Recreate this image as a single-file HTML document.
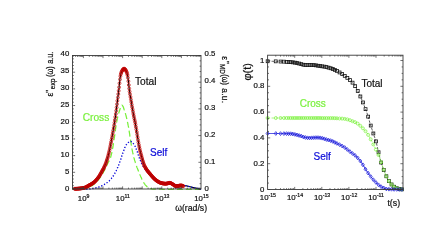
<!DOCTYPE html>
<html><head><meta charset="utf-8"><title>Dielectric loss and relaxation</title>
<style>html,body{margin:0;padding:0;background:#fff}svg{display:block}text{font-family:"Liberation Sans",sans-serif;stroke-width:0.2px;paint-order:stroke}</style>
</head><body>
<svg width="448" height="252" viewBox="0 0 448 252" fill="#111" stroke="none">
<rect width="448" height="252" fill="#fff"/>
<path d="M72.5 189.0 L73.1 189.0 L73.8 189.0 L74.4 189.0 L75.1 189.0 L75.7 188.9 L76.3 188.9 L77.0 188.9 L77.6 188.9 L78.2 188.8 L78.8 188.8 L79.5 188.7 L80.1 188.7 L80.7 188.6 L81.3 188.6 L81.9 188.5 L82.5 188.5 L83.1 188.4 L83.7 188.3 L84.3 188.3 L84.9 188.2 L85.5 188.1 L86.1 188.0 L86.7 187.9 L87.3 187.7 L87.9 187.5 L88.5 187.3 L89.1 187.0 L89.7 186.8 L90.3 186.5 L90.9 186.2 L91.4 185.9 L92.0 185.6 L92.5 185.3 L93.0 185.0 L93.5 184.7 L94.0 184.3 L94.5 183.9 L94.9 183.5 L95.4 183.1 L95.8 182.7 L96.3 182.2 L96.7 181.7 L97.2 181.2 L97.6 180.8 L98.0 180.3 L98.4 179.8 L98.8 179.3 L99.1 178.8 L99.5 178.3 L99.9 177.8 L100.2 177.3 L100.6 176.8 L100.9 176.3 L101.3 175.8 L101.6 175.2 L101.9 174.7 L102.3 174.2 L102.6 173.6 L102.9 173.1 L103.2 172.5 L103.5 172.0 L103.8 171.5 L104.1 170.9 L104.4 170.4 L104.7 169.8 L105.0 169.2 L105.2 168.7 L105.5 168.1 L105.8 167.6 L106.1 167.0 L106.3 166.4 L106.6 165.9 L106.9 165.3 L107.1 164.8 L107.4 164.2 L107.7 163.6 L107.9 163.1 L108.2 162.5 L108.5 161.9 L108.8 161.4 L109.1 160.8 L109.3 160.3 L109.6 159.7 L109.9 159.1 L110.1 158.5 L110.3 158.0 L110.6 157.4 L110.8 156.8 L110.9 156.2 L111.1 155.6 L111.3 155.1 L111.4 154.5 L111.5 153.9 L111.7 153.3 L111.8 152.7 L112.0 152.0 L112.1 151.4 L112.2 150.8 L112.3 150.2 L112.4 149.6 L112.5 149.0 L112.6 148.4 L112.8 147.8 L112.9 147.1 L113.0 146.5 L113.1 145.9 L113.2 145.3 L113.3 144.7 L113.4 144.0 L113.4 143.4 L113.5 142.8 L113.6 142.2 L113.7 141.6 L113.8 141.0 L113.9 140.3 L114.0 139.7 L114.1 139.1 L114.2 138.5 L114.3 137.9 L114.4 137.3 L114.5 136.6 L114.6 136.0 L114.7 135.4 L114.8 134.8 L114.9 134.2 L115.0 133.6 L115.0 132.9 L115.1 132.3 L115.2 131.7 L115.3 131.1 L115.4 130.5 L115.5 129.9 L115.5 129.2 L115.6 128.6 L115.7 128.0 L115.8 127.4 L115.9 126.8 L116.0 126.2 L116.1 125.5 L116.2 124.9 L116.3 124.3 L116.4 123.7 L116.5 123.1 L116.6 122.5 L116.7 121.9 L116.8 121.3 L117.0 120.7 L117.1 120.0 L117.2 119.4 L117.3 118.8 L117.5 118.2 L117.6 117.6 L117.7 117.0 L117.9 116.4 L118.0 115.8 L118.2 115.2 L118.3 114.6 L118.5 114.0 L118.7 113.4 L118.8 112.8 L119.0 112.2 L119.2 111.6 L119.4 111.0 L119.6 110.4 L119.8 109.8 L120.0 109.1 L120.2 108.4 L120.5 107.7 L120.8 107.0 L121.1 106.3 L121.4 105.8 L121.7 105.4 L121.9 105.2 L122.2 105.3 L122.5 105.6 L122.8 106.0 L123.1 106.6 L123.4 107.3 L123.6 108.1 L123.9 108.8 L124.1 109.5 L124.3 110.1 L124.5 110.7 L124.7 111.3 L124.9 111.9 L125.1 112.5 L125.3 113.1 L125.5 113.7 L125.7 114.3 L125.8 114.9 L126.0 115.5 L126.1 116.1 L126.3 116.7 L126.4 117.3 L126.6 117.9 L126.7 118.5 L126.9 119.1 L127.0 119.7 L127.2 120.3 L127.3 120.9 L127.4 121.5 L127.5 122.1 L127.7 122.8 L127.8 123.4 L127.9 124.0 L128.0 124.6 L128.1 125.2 L128.3 125.8 L128.4 126.4 L128.5 127.0 L128.6 127.6 L128.7 128.3 L128.8 128.9 L128.9 129.5 L129.0 130.1 L129.1 130.7 L129.2 131.3 L129.3 131.9 L129.4 132.6 L129.5 133.2 L129.6 133.8 L129.7 134.4 L129.8 135.0 L129.8 135.6 L129.9 136.2 L130.0 136.9 L130.1 137.5 L130.2 138.1 L130.3 138.7 L130.4 139.3 L130.5 139.9 L130.6 140.6 L130.7 141.2 L130.8 141.8 L130.9 142.4 L131.0 143.0 L131.1 143.6 L131.2 144.3 L131.3 144.9 L131.4 145.5 L131.5 146.1 L131.6 146.7 L131.7 147.3 L131.8 147.9 L131.9 148.5 L132.0 149.2 L132.2 149.8 L132.3 150.4 L132.4 151.0 L132.5 151.6 L132.6 152.2 L132.8 152.8 L132.9 153.4 L133.0 154.0 L133.2 154.6 L133.3 155.2 L133.5 155.9 L133.6 156.5 L133.8 157.1 L133.9 157.7 L134.1 158.3 L134.3 158.9 L134.4 159.5 L134.6 160.1 L134.8 160.7 L135.0 161.2 L135.2 161.8 L135.3 162.4 L135.5 163.0 L135.7 163.6 L135.9 164.2 L136.1 164.8 L136.3 165.4 L136.5 166.0 L136.7 166.6 L136.9 167.2 L137.1 167.7 L137.4 168.3 L137.6 168.9 L137.8 169.5 L138.0 170.1 L138.3 170.6 L138.5 171.2 L138.7 171.8 L139.0 172.4 L139.2 173.0 L139.4 173.5 L139.7 174.1 L139.9 174.7 L140.2 175.2 L140.4 175.8 L140.7 176.4 L140.9 177.0 L141.2 177.5 L141.5 178.1 L141.7 178.7 L142.0 179.3 L142.3 179.8 L142.5 180.4 L142.8 180.9 L143.1 181.5 L143.4 182.0 L143.7 182.6 L144.1 183.1 L144.4 183.6 L144.8 184.1 L145.1 184.6 L145.5 185.1 L146.0 185.6 L146.4 186.0 L146.9 186.5 L147.3 186.9 L147.8 187.2 L148.3 187.5 L148.9 187.8 L149.4 188.1 L150.0 188.3 L150.6 188.6 L151.3 188.8 L151.9 188.9 L152.5 189.0 L153.1 189.0 L153.7 189.0 L154.3 189.1 L154.9 189.1 L155.5 189.1 L156.1 189.1 L156.7 189.1 L157.3 189.2 L158.0 189.2 L158.6 189.2 L159.2 189.2 L159.8 189.2 L160.5 189.2 L161.1 189.2 L161.7 189.2 L162.4 189.3 L163.0 189.3 L163.6 189.3 L164.2 189.3 L164.9 189.3 L165.5 189.3 L166.1 189.3 L166.8 189.3 L167.4 189.3 L168.0 189.3 L168.6 189.3 L169.3 189.3 L169.9 189.3 L170.5 189.3 L171.1 189.3 L171.8 189.3 L172.4 189.3 L173.0 189.3 L173.6 189.3 L174.2 189.3 L174.9 189.3 L175.5 189.3 L176.1 189.3 L176.7 189.3 L177.4 189.3 L178.0 189.3 L178.6 189.3 L179.2 189.3 L179.8 189.3 L180.5 189.3 L181.1 189.3 L181.7 189.3 L182.3 189.3 L183.0 189.3 L183.6 189.3 L184.2 189.3 L184.8 189.3 L185.4 189.3 L186.1 189.3 L186.7 189.3 L187.3 189.3 L187.9 189.3 L188.6 189.3 L189.2 189.3 L189.8 189.3 L190.4 189.3 L191.0 189.3 L191.7 189.3 L192.3 189.3 L192.9 189.3 L193.5 189.3 L194.2 189.3 L194.8 189.3 L195.4 189.3 L196.0 189.3 L196.6 189.3 L197.3 189.3 L197.9 189.3 L198.5 189.3 L199.1 189.3 L199.8 189.3 L200.4 189.3 L201.0 189.3" fill="none" stroke="#78f03a" stroke-width="1.25" stroke-dasharray="6 3"/>
<path d="M72.5 188.9 L73.3 188.9 L74.0 188.8 L74.8 188.8 L75.6 188.8 L76.4 188.7 L77.1 188.7 L77.9 188.6 L78.7 188.5 L79.5 188.5 L80.2 188.4 L81.0 188.3 L81.8 188.2 L82.5 188.1 L83.3 188.0 L84.0 187.9 L84.7 187.7 L85.4 187.4 L86.1 187.1 L86.8 186.7 L87.5 186.3 L88.1 185.9 L88.8 185.5 L89.5 185.1 L90.2 184.8 L90.9 184.4 L91.5 184.0 L92.2 183.6 L92.9 183.2 L93.5 182.8 L94.1 182.3 L94.6 181.8 L95.2 181.3 L95.7 180.7 L96.2 180.1 L96.7 179.5 L97.2 178.9 L97.7 178.3 L98.2 177.7 L98.6 177.1 L99.1 176.4 L99.5 175.8 L99.9 175.1 L100.3 174.5 L100.6 173.8 L101.0 173.1 L101.4 172.4 L101.7 171.8 L102.1 171.1 L102.5 170.4 L102.8 169.7 L103.2 169.1 L103.6 168.4 L103.9 167.7 L104.3 167.0 L104.6 166.3 L104.9 165.6 L105.2 164.9 L105.5 164.2 L105.8 163.5 L106.0 162.8 L106.3 162.0 L106.5 161.3 L106.8 160.6 L107.0 159.8 L107.2 159.1 L107.5 158.3 L107.7 157.6 L107.9 156.9 L108.1 156.1 L108.3 155.4 L108.5 154.6 L108.6 153.9 L108.8 153.1 L109.0 152.4 L109.2 151.6 L109.3 150.9 L109.5 150.1 L109.7 149.4 L109.8 148.6 L110.0 147.9 L110.1 147.1 L110.3 146.4 L110.4 145.6 L110.6 144.9 L110.7 144.1 L110.9 143.3 L111.0 142.6 L111.2 141.8 L111.3 141.1 L111.4 140.3 L111.6 139.6 L111.7 138.8 L111.9 138.1 L112.0 137.3 L112.1 136.5 L112.3 135.8 L112.4 135.0 L112.6 134.3 L112.7 133.5 L112.8 132.8 L113.0 132.0 L113.1 131.2 L113.2 130.5 L113.4 129.7 L113.5 129.0 L113.6 128.2 L113.7 127.4 L113.9 126.7 L114.0 125.9 L114.1 125.2 L114.2 124.4 L114.3 123.6 L114.5 122.9 L114.6 122.1 L114.7 121.4 L114.8 120.6 L114.9 119.8 L115.0 119.1 L115.1 118.3 L115.3 117.6 L115.4 116.8 L115.5 116.0 L115.6 115.3 L115.7 114.5 L115.8 113.7 L115.9 113.0 L116.0 112.2 L116.1 111.5 L116.2 110.7 L116.3 109.9 L116.4 109.2 L116.5 108.4 L116.6 107.6 L116.7 106.9 L116.8 106.1 L116.9 105.4 L117.0 104.6 L117.1 103.8 L117.2 103.1 L117.3 102.3 L117.4 101.5 L117.5 100.8 L117.5 100.0 L117.6 99.2 L117.7 98.5 L117.8 97.7 L117.9 97.0 L118.0 96.2 L118.1 95.4 L118.2 94.7 L118.3 93.9 L118.4 93.1 L118.5 92.4 L118.6 91.6 L118.7 90.8 L118.8 90.1 L118.9 89.3 L119.0 88.6 L119.1 87.8 L119.1 87.0 L119.2 86.2 L119.3 85.5 L119.4 84.7 L119.4 83.9 L119.5 83.1 L119.6 82.4 L119.7 81.6 L119.7 80.8 L119.8 80.1 L119.9 79.3 L120.0 78.5 L120.1 77.8 L120.2 77.0 L120.4 76.3 L120.5 75.5 L120.7 74.8 L120.8 74.1 L121.0 73.3 L121.3 72.6 L121.6 71.8 L121.9 71.1 L122.3 70.5 L122.7 69.8 L123.3 69.2 L123.9 68.7 L124.5 68.8 L125.1 69.4 L125.6 70.1 L126.0 70.7 L126.4 71.4 L126.7 72.1 L126.9 72.8 L127.2 73.6 L127.3 74.4 L127.5 75.1 L127.6 75.8 L127.8 76.6 L127.9 77.3 L128.0 78.1 L128.1 78.8 L128.2 79.6 L128.3 80.4 L128.4 81.1 L128.5 81.9 L128.6 82.7 L128.6 83.4 L128.7 84.2 L128.8 85.0 L128.9 85.8 L129.0 86.5 L129.1 87.3 L129.1 88.1 L129.2 88.8 L129.3 89.6 L129.5 90.4 L129.6 91.1 L129.7 91.9 L129.8 92.6 L129.9 93.4 L130.0 94.2 L130.1 94.9 L130.3 95.7 L130.4 96.5 L130.5 97.2 L130.6 98.0 L130.8 98.7 L130.9 99.5 L131.0 100.2 L131.1 101.0 L131.3 101.8 L131.4 102.5 L131.5 103.3 L131.6 104.0 L131.8 104.8 L131.9 105.6 L132.0 106.3 L132.2 107.1 L132.3 107.8 L132.4 108.6 L132.6 109.3 L132.7 110.1 L132.9 110.9 L133.0 111.6 L133.1 112.4 L133.3 113.1 L133.4 113.9 L133.5 114.6 L133.7 115.4 L133.8 116.2 L134.0 116.9 L134.1 117.7 L134.3 118.4 L134.4 119.2 L134.6 119.9 L134.7 120.7 L134.9 121.4 L135.0 122.2 L135.2 122.9 L135.3 123.7 L135.5 124.5 L135.6 125.2 L135.8 126.0 L135.9 126.7 L136.0 127.5 L136.2 128.2 L136.3 129.0 L136.4 129.8 L136.5 130.5 L136.6 131.3 L136.8 132.0 L136.9 132.8 L137.0 133.6 L137.1 134.3 L137.3 135.1 L137.4 135.8 L137.5 136.6 L137.6 137.4 L137.7 138.1 L137.9 138.9 L138.0 139.6 L138.1 140.4 L138.2 141.2 L138.4 141.9 L138.5 142.7 L138.6 143.4 L138.8 144.2 L138.9 144.9 L139.0 145.7 L139.2 146.5 L139.3 147.2 L139.5 148.0 L139.6 148.7 L139.8 149.5 L140.0 150.2 L140.1 151.0 L140.3 151.7 L140.5 152.5 L140.7 153.2 L140.9 154.0 L141.1 154.7 L141.3 155.5 L141.5 156.2 L141.7 156.9 L141.9 157.7 L142.1 158.4 L142.3 159.2 L142.5 160.0 L142.7 160.7 L142.9 161.4 L143.1 162.2 L143.4 162.9 L143.6 163.6 L143.9 164.4 L144.1 165.1 L144.4 165.8 L144.7 166.4 L145.1 167.1 L145.5 167.8 L145.9 168.4 L146.3 169.1 L146.7 169.7 L147.2 170.3 L147.7 170.9 L148.1 171.6 L148.6 172.2 L149.1 172.8 L149.6 173.4 L150.1 174.0 L150.6 174.6 L151.1 175.2 L151.6 175.8 L152.1 176.4 L152.6 177.0 L153.1 177.6 L153.6 178.2 L154.2 178.8 L154.7 179.3 L155.3 179.8 L155.9 180.2 L156.5 180.5 L157.2 180.8 L157.9 181.1 L158.6 181.4 L159.3 181.7 L160.1 182.0 L160.8 182.2 L161.6 182.5 L162.3 182.7 L163.1 182.9 L163.9 183.1 L164.6 183.2 L165.4 183.4 L166.1 183.5 L166.9 183.6 L167.6 183.7 L168.4 183.9 L169.2 184.0 L169.9 184.1 L170.7 184.1 L171.5 184.2 L172.2 184.3 L173.0 184.4 L173.8 184.5 L174.5 184.6 L175.3 184.6 L176.1 184.7 L176.8 184.8 L177.6 184.8 L178.4 184.9 L179.1 184.9 L179.9 185.0 L180.7 185.0 L181.4 185.1 L182.2 185.2 L183.0 185.3 L183.7 185.4 L184.5 185.5 L185.2 185.6 L186.0 185.8 L186.7 185.9 L187.5 186.1 L188.2 186.3 L189.0 186.5 L189.7 186.7 L190.5 186.8 L191.2 187.0 L192.0 187.2 L192.7 187.4 L193.5 187.5 L194.2 187.7 L195.0 187.9 L195.7 188.0 L196.5 188.2 L197.2 188.4 L198.0 188.5 L198.7 188.7 L199.5 188.9 L200.2 189.0 L201.0 189.2" fill="none" stroke="#000" stroke-width="1.1"/>
<path d="M80.0 189.3 L80.4 189.3 L80.9 189.3 L81.3 189.3 L81.7 189.3 L82.1 189.3 L82.6 189.3 L83.0 189.3 L83.4 189.3 L83.8 189.3 L84.3 189.3 L84.7 189.3 L85.1 189.3 L85.6 189.2 L86.0 189.2 L86.4 189.2 L86.8 189.2 L87.3 189.2 L87.7 189.2 L88.1 189.2 L88.5 189.2 L89.0 189.1 L89.4 189.1 L89.8 189.1 L90.2 189.0 L90.7 188.9 L91.1 188.9 L91.5 188.8 L91.9 188.7 L92.3 188.7 L92.8 188.6 L93.2 188.5 L93.6 188.4 L94.0 188.4 L94.4 188.3 L94.8 188.2 L95.3 188.1 L95.7 188.0 L96.1 187.9 L96.5 187.7 L96.9 187.6 L97.3 187.5 L97.7 187.3 L98.1 187.2 L98.5 187.1 L98.9 186.9 L99.3 186.8 L99.7 186.6 L100.1 186.5 L100.5 186.3 L100.9 186.1 L101.3 186.0 L101.7 185.8 L102.1 185.6 L102.5 185.4 L102.9 185.2 L103.2 185.0 L103.6 184.8 L104.0 184.6 L104.4 184.4 L104.7 184.2 L105.1 184.0 L105.5 183.8 L105.8 183.5 L106.2 183.3 L106.5 183.0 L106.9 182.8 L107.2 182.5 L107.5 182.3 L107.9 182.0 L108.2 181.7 L108.5 181.4 L108.8 181.1 L109.2 180.9 L109.5 180.6 L109.8 180.3 L110.1 180.0 L110.4 179.6 L110.6 179.3 L110.9 179.0 L111.2 178.7 L111.5 178.4 L111.7 178.0 L112.0 177.7 L112.2 177.3 L112.5 177.0 L112.7 176.6 L113.0 176.3 L113.2 175.9 L113.5 175.6 L113.7 175.2 L113.9 174.8 L114.1 174.5 L114.3 174.1 L114.6 173.8 L114.8 173.4 L115.0 173.0 L115.2 172.6 L115.4 172.3 L115.6 171.9 L115.8 171.5 L116.0 171.1 L116.2 170.7 L116.3 170.3 L116.5 170.0 L116.7 169.6 L116.9 169.2 L117.1 168.8 L117.2 168.4 L117.4 168.0 L117.6 167.6 L117.8 167.2 L117.9 166.8 L118.1 166.4 L118.2 166.1 L118.4 165.7 L118.6 165.3 L118.7 164.9 L118.9 164.5 L119.0 164.1 L119.2 163.7 L119.3 163.3 L119.5 162.9 L119.6 162.5 L119.8 162.1 L119.9 161.7 L120.0 161.3 L120.2 160.9 L120.3 160.5 L120.5 160.1 L120.6 159.7 L120.8 159.2 L120.9 158.8 L121.0 158.4 L121.2 158.0 L121.3 157.6 L121.4 157.2 L121.6 156.8 L121.7 156.4 L121.8 156.0 L122.0 155.6 L122.1 155.2 L122.2 154.8 L122.4 154.4 L122.5 154.0 L122.6 153.6 L122.8 153.2 L122.9 152.8 L123.1 152.4 L123.2 152.0 L123.4 151.6 L123.5 151.2 L123.7 150.7 L123.8 150.3 L124.0 149.9 L124.1 149.5 L124.3 149.1 L124.4 148.7 L124.6 148.3 L124.7 147.8 L124.9 147.4 L125.1 147.0 L125.2 146.7 L125.4 146.3 L125.6 145.9 L125.8 145.5 L126.0 145.2 L126.2 144.9 L126.5 144.5 L126.7 144.2 L127.0 143.9 L127.3 143.5 L127.6 143.2 L128.0 142.8 L128.3 142.5 L128.7 142.2 L129.1 141.9 L129.4 141.7 L129.8 141.5 L130.2 141.4 L130.5 141.4 L130.8 141.4 L131.2 141.6 L131.5 141.8 L131.9 142.0 L132.2 142.3 L132.6 142.7 L132.9 143.1 L133.2 143.4 L133.5 143.8 L133.8 144.2 L134.0 144.5 L134.2 144.8 L134.5 145.2 L134.7 145.5 L134.9 145.9 L135.1 146.3 L135.3 146.7 L135.4 147.1 L135.6 147.5 L135.8 147.9 L135.9 148.3 L136.1 148.7 L136.3 149.1 L136.4 149.5 L136.6 149.9 L136.7 150.3 L136.9 150.7 L137.0 151.1 L137.2 151.5 L137.3 151.9 L137.5 152.3 L137.6 152.7 L137.7 153.1 L137.9 153.5 L138.0 153.9 L138.1 154.3 L138.2 154.8 L138.4 155.2 L138.5 155.6 L138.6 156.0 L138.8 156.4 L138.9 156.8 L139.1 157.2 L139.2 157.6 L139.4 158.0 L139.5 158.4 L139.7 158.8 L139.8 159.2 L140.0 159.6 L140.2 160.0 L140.3 160.4 L140.5 160.7 L140.7 161.1 L140.8 161.5 L141.0 161.9 L141.2 162.3 L141.4 162.7 L141.5 163.1 L141.7 163.5 L141.9 163.8 L142.1 164.2 L142.3 164.6 L142.5 165.0 L142.7 165.3 L142.9 165.7 L143.1 166.1 L143.3 166.5 L143.6 166.8 L143.8 167.2 L144.0 167.6 L144.2 167.9 L144.5 168.3 L144.7 168.7 L144.9 169.0 L145.2 169.4 L145.4 169.7 L145.7 170.1 L145.9 170.4 L146.2 170.7 L146.4 171.1 L146.7 171.4 L147.0 171.7 L147.2 172.1 L147.5 172.4 L147.8 172.7 L148.1 173.0 L148.4 173.3 L148.7 173.7 L149.0 174.0 L149.3 174.3 L149.6 174.6 L149.9 174.9 L150.2 175.2 L150.5 175.5 L150.8 175.8 L151.1 176.1 L151.4 176.4 L151.7 176.7 L152.0 177.0 L152.3 177.3 L152.6 177.6 L153.0 177.9 L153.3 178.2 L153.6 178.5 L153.9 178.8 L154.3 179.0 L154.6 179.3 L154.9 179.5 L155.3 179.8 L155.6 180.0 L156.0 180.2 L156.3 180.4 L156.7 180.6 L157.1 180.7 L157.5 180.9 L157.9 181.1 L158.3 181.3 L158.6 181.4 L159.0 181.6 L159.5 181.7 L159.9 181.9 L160.3 182.0 L160.7 182.2 L161.1 182.3 L161.5 182.4 L161.9 182.6 L162.4 182.7 L162.8 182.8 L163.2 182.9 L163.6 183.0 L164.0 183.1 L164.4 183.2 L164.9 183.3 L165.3 183.4 L165.7 183.4 L166.1 183.5 L166.5 183.6 L166.9 183.6 L167.4 183.7 L167.8 183.8 L168.2 183.8 L168.6 183.9 L169.0 183.9 L169.5 184.0 L169.9 184.0 L170.3 184.1 L170.7 184.1 L171.2 184.2 L171.6 184.2 L172.0 184.3 L172.5 184.3 L172.9 184.4 L173.3 184.4 L173.7 184.5 L174.2 184.5 L174.6 184.6 L175.0 184.6 L175.4 184.6 L175.9 184.7 L176.3 184.7 L176.7 184.8 L177.1 184.8 L177.6 184.8 L178.0 184.8 L178.4 184.9 L178.8 184.9 L179.3 184.9 L179.7 185.0 L180.1 185.0 L180.5 185.0 L181.0 185.1 L181.4 185.1 L181.8 185.1 L182.2 185.2 L182.7 185.2 L183.1 185.3 L183.5 185.3 L183.9 185.4 L184.3 185.4 L184.8 185.5 L185.2 185.6 L185.6 185.7 L186.0 185.8 L186.4 185.9 L186.8 186.0 L187.3 186.0 L187.7 186.1 L188.1 186.3 L188.5 186.4 L188.9 186.5 L189.3 186.6 L189.8 186.7 L190.2 186.8 L190.6 186.9 L191.0 187.0 L191.4 187.1 L191.8 187.2 L192.3 187.3 L192.7 187.3 L193.1 187.4 L193.5 187.5 L193.9 187.6 L194.3 187.7 L194.8 187.8 L195.2 187.9 L195.6 188.0 L196.0 188.1 L196.4 188.2 L196.8 188.3 L197.3 188.4 L197.7 188.5 L198.1 188.5 L198.5 188.6 L198.9 188.7 L199.3 188.8 L199.8 188.9 L200.2 189.0 L200.6 189.1 L201.0 189.2" fill="none" stroke="#0a0ad8" stroke-width="1.35" stroke-dasharray="1.3 1.8"/>
<g fill="none" stroke="#c00000" stroke-width="0.7"><circle cx="74.6" cy="188.8" r="1.45"/><circle cx="75.0" cy="188.8" r="1.45"/><circle cx="75.4" cy="188.8" r="1.45"/><circle cx="75.9" cy="188.8" r="1.45"/><circle cx="76.3" cy="188.8" r="1.45"/><circle cx="76.7" cy="188.8" r="1.45"/><circle cx="77.1" cy="188.7" r="1.45"/><circle cx="77.5" cy="188.7" r="1.45"/><circle cx="78.0" cy="188.7" r="1.45"/><circle cx="78.4" cy="188.6" r="1.45"/><circle cx="78.8" cy="188.6" r="1.45"/><circle cx="79.2" cy="188.6" r="1.45"/><circle cx="79.6" cy="188.5" r="1.45"/><circle cx="80.1" cy="188.5" r="1.45"/><circle cx="80.5" cy="188.4" r="1.45"/><circle cx="80.9" cy="188.4" r="1.45"/><circle cx="81.3" cy="188.3" r="1.45"/><circle cx="81.7" cy="188.2" r="1.45"/><circle cx="82.2" cy="188.2" r="1.45"/><circle cx="82.6" cy="188.1" r="1.45"/><circle cx="83.0" cy="188.0" r="1.45"/><circle cx="83.4" cy="188.0" r="1.45"/><circle cx="83.8" cy="187.9" r="1.45"/><circle cx="84.3" cy="187.8" r="1.45"/><circle cx="84.7" cy="187.7" r="1.45"/><circle cx="85.1" cy="187.6" r="1.45"/><circle cx="85.5" cy="187.4" r="1.45"/><circle cx="85.9" cy="187.2" r="1.45"/><circle cx="86.4" cy="187.0" r="1.45"/><circle cx="86.8" cy="186.7" r="1.45"/><circle cx="87.2" cy="186.5" r="1.45"/><circle cx="87.6" cy="186.2" r="1.45"/><circle cx="88.0" cy="186.0" r="1.45"/><circle cx="88.5" cy="185.7" r="1.45"/><circle cx="88.9" cy="185.5" r="1.45"/><circle cx="89.3" cy="185.2" r="1.45"/><circle cx="89.7" cy="185.0" r="1.45"/><circle cx="90.1" cy="184.8" r="1.45"/><circle cx="90.6" cy="184.6" r="1.45"/><circle cx="91.0" cy="184.3" r="1.45"/><circle cx="91.4" cy="184.1" r="1.45"/><circle cx="91.8" cy="183.8" r="1.45"/><circle cx="92.2" cy="183.6" r="1.45"/><circle cx="92.7" cy="183.3" r="1.45"/><circle cx="93.1" cy="183.0" r="1.45"/><circle cx="93.5" cy="182.7" r="1.45"/><circle cx="93.9" cy="182.4" r="1.45"/><circle cx="94.3" cy="182.1" r="1.45"/><circle cx="94.8" cy="181.7" r="1.45"/><circle cx="95.2" cy="181.3" r="1.45"/><circle cx="95.6" cy="180.8" r="1.45"/><circle cx="96.0" cy="180.4" r="1.45"/><circle cx="96.4" cy="179.9" r="1.45"/><circle cx="96.9" cy="179.4" r="1.45"/><circle cx="97.3" cy="178.8" r="1.45"/><circle cx="97.7" cy="178.3" r="1.45"/><circle cx="98.1" cy="177.8" r="1.45"/><circle cx="98.5" cy="177.2" r="1.45"/><circle cx="99.0" cy="176.6" r="1.45"/><circle cx="99.4" cy="175.9" r="1.45"/><circle cx="99.8" cy="175.3" r="1.45"/><circle cx="100.2" cy="174.5" r="1.45"/><circle cx="100.6" cy="173.8" r="1.45"/><circle cx="101.1" cy="173.0" r="1.45"/><circle cx="101.5" cy="172.2" r="1.45"/><circle cx="101.9" cy="171.5" r="1.45"/><circle cx="102.3" cy="170.7" r="1.45"/><circle cx="102.7" cy="169.9" r="1.45"/><circle cx="103.2" cy="169.2" r="1.45"/><circle cx="103.6" cy="168.4" r="1.45"/><circle cx="104.0" cy="167.6" r="1.45"/><circle cx="104.4" cy="166.7" r="1.45"/><circle cx="104.8" cy="165.8" r="1.45"/><circle cx="105.3" cy="164.8" r="1.45"/><circle cx="105.7" cy="163.7" r="1.45"/><circle cx="106.1" cy="162.6" r="1.45"/><circle cx="106.5" cy="161.3" r="1.45"/><circle cx="106.9" cy="160.0" r="1.45"/><circle cx="107.4" cy="158.6" r="1.45"/><circle cx="107.8" cy="157.2" r="1.45"/><circle cx="108.2" cy="155.6" r="1.45"/><circle cx="108.6" cy="154.0" r="1.45"/><circle cx="109.0" cy="152.2" r="1.45"/><circle cx="109.5" cy="150.3" r="1.45"/><circle cx="109.9" cy="148.3" r="1.45"/><circle cx="110.3" cy="146.2" r="1.45"/><circle cx="110.7" cy="144.0" r="1.45"/><circle cx="111.1" cy="141.9" r="1.45"/><circle cx="111.6" cy="139.7" r="1.45"/><circle cx="112.0" cy="137.5" r="1.45"/><circle cx="112.4" cy="135.2" r="1.45"/><circle cx="112.8" cy="132.8" r="1.45"/><circle cx="113.2" cy="130.4" r="1.45"/><circle cx="113.7" cy="127.9" r="1.45"/><circle cx="114.1" cy="125.3" r="1.45"/><circle cx="114.5" cy="122.7" r="1.45"/><circle cx="114.9" cy="119.9" r="1.45"/><circle cx="115.3" cy="116.9" r="1.45"/><circle cx="115.8" cy="113.9" r="1.45"/><circle cx="116.2" cy="110.7" r="1.45"/><circle cx="116.6" cy="107.5" r="1.45"/><circle cx="117.0" cy="104.2" r="1.45"/><circle cx="117.4" cy="100.8" r="1.45"/><circle cx="117.9" cy="97.5" r="1.45"/><circle cx="118.3" cy="94.1" r="1.45"/><circle cx="118.7" cy="90.8" r="1.45"/><circle cx="119.1" cy="87.3" r="1.45"/><circle cx="119.5" cy="83.3" r="1.45"/><circle cx="120.0" cy="79.4" r="1.45"/><circle cx="120.4" cy="76.2" r="1.45"/><circle cx="120.8" cy="74.2" r="1.45"/><circle cx="121.2" cy="72.9" r="1.45"/><circle cx="121.6" cy="71.7" r="1.45"/><circle cx="122.1" cy="70.8" r="1.45"/><circle cx="122.5" cy="70.2" r="1.45"/><circle cx="122.9" cy="69.6" r="1.45"/><circle cx="123.3" cy="69.1" r="1.45"/><circle cx="123.7" cy="68.8" r="1.45"/><circle cx="124.2" cy="68.7" r="1.45"/><circle cx="124.6" cy="68.9" r="1.45"/><circle cx="125.0" cy="69.3" r="1.45"/><circle cx="125.4" cy="69.8" r="1.45"/><circle cx="125.8" cy="70.3" r="1.45"/><circle cx="126.3" cy="71.2" r="1.45"/><circle cx="126.7" cy="72.2" r="1.45"/><circle cx="127.1" cy="73.5" r="1.45"/><circle cx="127.5" cy="75.1" r="1.45"/><circle cx="127.9" cy="77.7" r="1.45"/><circle cx="128.4" cy="81.2" r="1.45"/><circle cx="128.8" cy="85.0" r="1.45"/><circle cx="129.2" cy="88.5" r="1.45"/><circle cx="129.6" cy="91.5" r="1.45"/><circle cx="130.0" cy="94.2" r="1.45"/><circle cx="130.5" cy="96.9" r="1.45"/><circle cx="130.9" cy="99.5" r="1.45"/><circle cx="131.3" cy="102.0" r="1.45"/><circle cx="131.7" cy="104.5" r="1.45"/><circle cx="132.1" cy="106.9" r="1.45"/><circle cx="132.6" cy="109.3" r="1.45"/><circle cx="133.0" cy="111.6" r="1.45"/><circle cx="133.4" cy="113.9" r="1.45"/><circle cx="133.8" cy="116.1" r="1.45"/><circle cx="134.2" cy="118.3" r="1.45"/><circle cx="134.7" cy="120.3" r="1.45"/><circle cx="135.1" cy="122.3" r="1.45"/><circle cx="135.5" cy="124.5" r="1.45"/><circle cx="135.9" cy="126.9" r="1.45"/><circle cx="136.3" cy="129.4" r="1.45"/><circle cx="136.8" cy="132.0" r="1.45"/><circle cx="137.2" cy="134.6" r="1.45"/><circle cx="137.6" cy="137.2" r="1.45"/><circle cx="138.0" cy="139.8" r="1.45"/><circle cx="138.4" cy="142.3" r="1.45"/><circle cx="138.9" cy="144.7" r="1.45"/><circle cx="139.3" cy="146.9" r="1.45"/><circle cx="139.7" cy="148.9" r="1.45"/><circle cx="140.1" cy="150.9" r="1.45"/><circle cx="140.5" cy="152.6" r="1.45"/><circle cx="141.0" cy="154.3" r="1.45"/><circle cx="141.4" cy="155.9" r="1.45"/><circle cx="141.8" cy="157.5" r="1.45"/><circle cx="142.2" cy="159.0" r="1.45"/><circle cx="142.6" cy="160.5" r="1.45"/><circle cx="143.1" cy="161.9" r="1.45"/><circle cx="143.5" cy="163.3" r="1.45"/><circle cx="143.9" cy="164.5" r="1.45"/><circle cx="144.3" cy="165.5" r="1.45"/><circle cx="144.7" cy="166.4" r="1.45"/><circle cx="145.2" cy="167.2" r="1.45"/><circle cx="145.6" cy="167.9" r="1.45"/><circle cx="146.0" cy="168.6" r="1.45"/><circle cx="146.4" cy="169.3" r="1.45"/><circle cx="146.8" cy="169.9" r="1.45"/><circle cx="147.3" cy="170.5" r="1.45"/><circle cx="147.7" cy="171.1" r="1.45"/><circle cx="148.1" cy="171.6" r="1.45"/><circle cx="148.5" cy="172.1" r="1.45"/><circle cx="148.9" cy="172.6" r="1.45"/><circle cx="149.4" cy="173.1" r="1.45"/><circle cx="149.8" cy="173.6" r="1.45"/><circle cx="150.2" cy="174.1" r="1.45"/><circle cx="150.6" cy="174.6" r="1.45"/><circle cx="151.0" cy="175.1" r="1.45"/><circle cx="151.5" cy="175.6" r="1.45"/><circle cx="151.9" cy="176.1" r="1.45"/><circle cx="152.3" cy="176.6" r="1.45"/><circle cx="152.7" cy="177.1" r="1.45"/><circle cx="153.1" cy="177.5" r="1.45"/><circle cx="153.6" cy="178.0" r="1.45"/><circle cx="154.0" cy="178.4" r="1.45"/><circle cx="154.4" cy="178.8" r="1.45"/><circle cx="154.8" cy="179.2" r="1.45"/><circle cx="155.2" cy="179.6" r="1.45"/><circle cx="155.7" cy="179.9" r="1.45"/><circle cx="156.1" cy="180.3" r="1.45"/><circle cx="156.5" cy="180.6" r="1.45"/><circle cx="156.9" cy="180.8" r="1.45"/><circle cx="157.3" cy="181.1" r="1.45"/><circle cx="157.8" cy="181.4" r="1.45"/><circle cx="158.2" cy="181.7" r="1.45"/><circle cx="158.6" cy="181.9" r="1.45"/><circle cx="159.0" cy="182.2" r="1.45"/><circle cx="159.4" cy="182.4" r="1.45"/><circle cx="159.9" cy="182.6" r="1.45"/><circle cx="160.3" cy="182.8" r="1.45"/><circle cx="160.7" cy="182.9" r="1.45"/><circle cx="161.1" cy="183.0" r="1.45"/><circle cx="161.5" cy="183.1" r="1.45"/><circle cx="162.0" cy="183.2" r="1.45"/><circle cx="162.4" cy="183.3" r="1.45"/><circle cx="162.8" cy="183.4" r="1.45"/><circle cx="163.2" cy="183.5" r="1.45"/><circle cx="163.6" cy="183.5" r="1.45"/><circle cx="164.1" cy="183.6" r="1.45"/><circle cx="164.5" cy="183.6" r="1.45"/><circle cx="164.9" cy="183.7" r="1.45"/><circle cx="165.3" cy="183.7" r="1.45"/><circle cx="165.7" cy="183.7" r="1.45"/><circle cx="166.2" cy="183.7" r="1.45"/><circle cx="166.6" cy="183.6" r="1.45"/><circle cx="167.0" cy="183.5" r="1.45"/><circle cx="167.4" cy="183.4" r="1.45"/><circle cx="167.8" cy="183.3" r="1.45"/><circle cx="168.3" cy="183.2" r="1.45"/><circle cx="168.7" cy="183.1" r="1.45"/><circle cx="169.1" cy="183.0" r="1.45"/><circle cx="169.5" cy="182.9" r="1.45"/><circle cx="169.9" cy="182.9" r="1.45"/><circle cx="170.4" cy="183.0" r="1.45"/><circle cx="170.8" cy="183.1" r="1.45"/><circle cx="171.2" cy="183.3" r="1.45"/><circle cx="171.6" cy="183.6" r="1.45"/><circle cx="172.0" cy="183.8" r="1.45"/><circle cx="172.5" cy="184.1" r="1.45"/><circle cx="172.9" cy="184.4" r="1.45"/><circle cx="173.3" cy="184.6" r="1.45"/><circle cx="173.7" cy="184.9" r="1.45"/><circle cx="174.1" cy="185.2" r="1.45"/><circle cx="174.6" cy="185.5" r="1.45"/><circle cx="175.0" cy="185.8" r="1.45"/><circle cx="175.4" cy="186.0" r="1.45"/><circle cx="175.8" cy="186.2" r="1.45"/><circle cx="176.2" cy="186.3" r="1.45"/><circle cx="176.7" cy="186.3" r="1.45"/><circle cx="177.1" cy="186.2" r="1.45"/><circle cx="177.5" cy="186.2" r="1.45"/><circle cx="177.9" cy="186.1" r="1.45"/><circle cx="178.3" cy="186.0" r="1.45"/><circle cx="178.8" cy="185.8" r="1.45"/><circle cx="179.2" cy="185.7" r="1.45"/><circle cx="179.6" cy="185.6" r="1.45"/><circle cx="180.0" cy="185.6" r="1.45"/><circle cx="180.4" cy="185.5" r="1.45"/><circle cx="180.9" cy="185.5" r="1.45"/><circle cx="181.3" cy="185.5" r="1.45"/><circle cx="181.7" cy="185.6" r="1.45"/><circle cx="182.1" cy="185.7" r="1.45"/><circle cx="182.5" cy="185.8" r="1.45"/><circle cx="183.0" cy="186.0" r="1.45"/><circle cx="183.4" cy="186.1" r="1.45"/></g>
<rect x="72.5" y="55.5" width="128.5" height="133.5" fill="none" stroke="#3a3a3a" stroke-width="0.9"/>
<text x="69.3" y="190.8" text-anchor="end" font-size="7.8" stroke="#111">0</text>
<text x="69.3" y="174.0" text-anchor="end" font-size="7.8" stroke="#111">5</text>
<text x="69.3" y="157.2" text-anchor="end" font-size="7.8" stroke="#111">10</text>
<text x="69.3" y="140.3" text-anchor="end" font-size="7.8" stroke="#111">15</text>
<text x="69.3" y="123.5" text-anchor="end" font-size="7.8" stroke="#111">20</text>
<text x="69.3" y="106.7" text-anchor="end" font-size="7.8" stroke="#111">25</text>
<text x="69.3" y="89.8" text-anchor="end" font-size="7.8" stroke="#111">30</text>
<text x="69.3" y="73.0" text-anchor="end" font-size="7.8" stroke="#111">35</text>
<text x="69.3" y="56.2" text-anchor="end" font-size="7.8" stroke="#111">40</text>
<text x="204.6" y="190.8" font-size="7.8" stroke="#111">0</text>
<text x="204.6" y="163.9" font-size="7.8" stroke="#111">0.1</text>
<text x="204.6" y="137.0" font-size="7.8" stroke="#111">0.2</text>
<text x="204.6" y="110.0" font-size="7.8" stroke="#111">0.3</text>
<text x="204.6" y="83.1" font-size="7.8" stroke="#111">0.4</text>
<text x="204.6" y="56.2" font-size="7.8" stroke="#111">0.5</text>
<text x="77.8" y="200.6" font-size="7.8" stroke="#111">10<tspan dy="-2.4" font-size="5.2">9</tspan></text>
<text x="115.8" y="200.6" font-size="7.8" stroke="#111">10<tspan dy="-2.4" font-size="5.2">11</tspan></text>
<text x="155.0" y="200.6" font-size="7.8" stroke="#111">10<tspan dy="-2.4" font-size="5.2">13</tspan></text>
<text x="194.2" y="200.6" font-size="7.8" stroke="#111">10<tspan dy="-2.4" font-size="5.2">15</tspan></text>
<text x="175.2" y="211" font-size="8.7" stroke="#111">ω(rad/s)</text>
<g transform="translate(53.0,96.6) rotate(-90) scale(1,1.18)"><text x="0" y="0" font-size="8.4" stroke="#111">ε</text><text x="3.9" y="-0.9" font-size="8.4" stroke="#111">"</text><text x="7.4" y="1.5" font-size="6.4" textLength="10.6" lengthAdjust="spacingAndGlyphs" stroke="#111">exp</text><text x="19.6" y="0" font-size="8.4" textLength="10.8" lengthAdjust="spacingAndGlyphs" stroke="#111">(ω)</text><text x="32.8" y="0" font-size="8.4" textLength="12.2" lengthAdjust="spacingAndGlyphs" stroke="#111">a.u.</text></g>
<g transform="translate(222.0,56.3) rotate(90) scale(1,1.18)"><text x="0" y="0" font-size="8.4" stroke="#111">ε</text><text x="4.6" y="-0.9" font-size="8.4" stroke="#111">"</text><text x="7.6" y="1.4" font-size="6.2" textLength="9.9" lengthAdjust="spacingAndGlyphs" stroke="#111">MD</text><text x="18.0" y="0" font-size="8.4" textLength="10.8" lengthAdjust="spacingAndGlyphs" stroke="#111">(ω)</text><text x="31.9" y="0" font-size="8.4" textLength="15.0" lengthAdjust="spacing" stroke="#111">a.u.</text></g>
<text x="135.0" y="84.5" font-size="10.2" stroke="#111">Total</text>
<text x="82.7" y="121.1" font-size="10.2" fill="#78f03a" stroke="#78f03a">Cross</text>
<text x="150" y="156" font-size="10" fill="#0a0ad8" stroke="#0a0ad8">Self</text>
<path d="M267.6 61.3 L268.1 61.3 L268.5 61.3 L269.0 61.3 L269.4 61.3 L269.9 61.3 L270.3 61.3 L270.8 61.3 L271.2 61.3 L271.7 61.3 L272.1 61.3 L272.6 61.3 L273.0 61.3 L273.5 61.4 L273.9 61.4 L274.4 61.4 L274.8 61.4 L275.3 61.4 L275.7 61.4 L276.2 61.4 L276.6 61.4 L277.1 61.4 L277.5 61.4 L278.0 61.4 L278.4 61.5 L278.9 61.5 L279.3 61.5 L279.8 61.5 L280.3 61.5 L280.7 61.5 L281.2 61.6 L281.6 61.6 L282.1 61.6 L282.5 61.6 L283.0 61.6 L283.4 61.7 L283.9 61.7 L284.3 61.7 L284.8 61.7 L285.2 61.7 L285.7 61.8 L286.1 61.8 L286.6 61.8 L287.0 61.9 L287.5 61.9 L287.9 61.9 L288.4 61.9 L288.8 62.0 L289.3 62.0 L289.7 62.0 L290.2 62.1 L290.6 62.1 L291.1 62.2 L291.5 62.2 L292.0 62.2 L292.5 62.3 L292.9 62.3 L293.4 62.4 L293.8 62.5 L294.3 62.5 L294.7 62.6 L295.2 62.7 L295.6 62.8 L296.1 62.9 L296.5 63.0 L297.0 63.1 L297.4 63.2 L297.9 63.3 L298.3 63.4 L298.8 63.5 L299.2 63.5 L299.7 63.7 L300.1 63.8 L300.6 63.9 L301.0 64.0 L301.5 64.2 L301.9 64.3 L302.4 64.5 L302.8 64.6 L303.3 64.7 L303.7 64.8 L304.2 64.9 L304.7 64.9 L305.1 65.0 L305.6 65.0 L306.0 65.0 L306.5 65.0 L306.9 65.0 L307.4 65.0 L307.8 65.0 L308.3 65.0 L308.7 65.0 L309.2 65.1 L309.6 65.1 L310.1 65.1 L310.5 65.1 L311.0 65.1 L311.4 65.1 L311.9 65.1 L312.3 65.1 L312.8 65.1 L313.2 65.1 L313.7 65.2 L314.1 65.2 L314.6 65.2 L315.0 65.3 L315.5 65.3 L315.9 65.4 L316.4 65.5 L316.9 65.5 L317.3 65.6 L317.8 65.7 L318.2 65.7 L318.7 65.8 L319.1 65.9 L319.6 65.9 L320.0 66.0 L320.5 66.1 L320.9 66.1 L321.4 66.2 L321.8 66.3 L322.3 66.3 L322.7 66.4 L323.2 66.5 L323.6 66.6 L324.1 66.6 L324.5 66.7 L325.0 66.8 L325.4 66.9 L325.9 67.0 L326.3 67.1 L326.8 67.2 L327.2 67.3 L327.7 67.4 L328.1 67.5 L328.6 67.6 L329.1 67.8 L329.5 67.9 L330.0 68.0 L330.4 68.2 L330.9 68.3 L331.3 68.5 L331.8 68.6 L332.2 68.8 L332.7 69.0 L333.1 69.1 L333.6 69.3 L334.0 69.5 L334.5 69.7 L334.9 69.9 L335.4 70.1 L335.8 70.3 L336.3 70.5 L336.7 70.8 L337.2 71.0 L337.6 71.3 L338.1 71.5 L338.5 71.8 L339.0 72.1 L339.4 72.3 L339.9 72.6 L340.3 72.9 L340.8 73.2 L341.2 73.5 L341.7 73.8 L342.2 74.1 L342.6 74.4 L343.1 74.7 L343.5 75.0 L344.0 75.3 L344.4 75.6 L344.9 76.0 L345.3 76.3 L345.8 76.6 L346.2 77.0 L346.7 77.3 L347.1 77.7 L347.6 78.0 L348.0 78.4 L348.5 78.8 L348.9 79.2 L349.4 79.6 L349.8 80.0 L350.3 80.4 L350.7 80.8 L351.2 81.2 L351.6 81.7 L352.1 82.2 L352.5 82.6 L353.0 83.2 L353.4 83.7 L353.9 84.3 L354.4 84.9 L354.8 85.6 L355.3 86.4 L355.7 87.2 L356.2 88.0 L356.6 88.8 L357.1 89.6 L357.5 90.5 L358.0 91.4 L358.4 92.3 L358.9 93.3 L359.3 94.2 L359.8 95.2 L360.2 96.2 L360.7 97.2 L361.1 98.2 L361.6 99.2 L362.0 100.3 L362.5 101.3 L362.9 102.4 L363.4 103.6 L363.8 104.7 L364.3 105.9 L364.7 107.1 L365.2 108.3 L365.6 109.4 L366.1 110.6 L366.6 111.9 L367.0 113.1 L367.5 114.5 L367.9 115.9 L368.4 117.4 L368.8 119.0 L369.3 120.6 L369.7 122.2 L370.2 123.7 L370.6 125.2 L371.1 126.6 L371.5 127.9 L372.0 129.3 L372.4 130.6 L372.9 132.0 L373.3 133.4 L373.8 134.8 L374.2 136.1 L374.7 137.4 L375.1 138.8 L375.6 140.2 L376.0 141.7 L376.5 143.3 L376.9 145.2 L377.4 147.2 L377.8 149.2 L378.3 151.2 L378.8 153.1 L379.2 155.0 L379.7 156.9 L380.1 158.7 L380.6 160.5 L381.0 162.1 L381.5 163.6 L381.9 165.0 L382.4 166.3 L382.8 167.5 L383.3 168.7 L383.7 169.9 L384.2 171.0 L384.6 172.1 L385.1 173.2 L385.5 174.3 L386.0 175.4 L386.4 176.4 L386.9 177.4 L387.3 178.3 L387.8 179.2 L388.2 179.9 L388.7 180.7 L389.1 181.4 L389.6 182.1 L390.0 182.7 L390.5 183.3 L391.0 183.8 L391.4 184.3 L391.9 184.7 L392.3 185.2 L392.8 185.6 L393.2 186.0 L393.7 186.4 L394.1 186.7 L394.6 187.0 L395.0 187.3 L395.5 187.6 L395.9 187.8 L396.4 188.0 L396.8 188.1 L397.3 188.3 L397.7 188.4 L398.2 188.6 L398.6 188.7 L399.1 188.9 L399.5 189.0 L400.0 189.1 L400.4 189.2 L400.9 189.2 L401.3 189.3 L401.8 189.4 L402.2 189.4 L402.7 189.4" fill="none" stroke="#111" stroke-width="0.7" stroke-dasharray="2.5 1.5"/>
<g fill="none" stroke="#111" stroke-width="0.8"><rect x="266.2" y="59.8" width="2.9" height="2.9"/><rect x="274.3" y="59.9" width="2.9" height="2.9"/><rect x="279.1" y="60.1" width="2.9" height="2.9"/><rect x="282.5" y="60.2" width="2.9" height="2.9"/><rect x="285.1" y="60.4" width="2.9" height="2.9"/><rect x="287.2" y="60.5" width="2.9" height="2.9"/><rect x="289.3" y="60.7" width="2.9" height="2.9"/><rect x="291.4" y="60.9" width="2.9" height="2.9"/><rect x="293.5" y="61.2" width="2.9" height="2.9"/><rect x="295.6" y="61.6" width="2.9" height="2.9"/><rect x="297.7" y="62.1" width="2.9" height="2.9"/><rect x="299.8" y="62.7" width="2.9" height="2.9"/><rect x="301.9" y="63.3" width="2.9" height="2.9"/><rect x="304.0" y="63.6" width="2.9" height="2.9"/><rect x="306.1" y="63.6" width="2.9" height="2.9"/><rect x="308.2" y="63.6" width="2.9" height="2.9"/><rect x="310.3" y="63.6" width="2.9" height="2.9"/><rect x="312.4" y="63.7" width="2.9" height="2.9"/><rect x="314.5" y="63.9" width="2.9" height="2.9"/><rect x="316.6" y="64.3" width="2.9" height="2.9"/><rect x="318.7" y="64.6" width="2.9" height="2.9"/><rect x="320.8" y="64.9" width="2.9" height="2.9"/><rect x="322.9" y="65.2" width="2.9" height="2.9"/><rect x="325.0" y="65.6" width="2.9" height="2.9"/><rect x="327.1" y="66.2" width="2.9" height="2.9"/><rect x="329.2" y="66.8" width="2.9" height="2.9"/><rect x="331.3" y="67.5" width="2.9" height="2.9"/><rect x="333.4" y="68.4" width="2.9" height="2.9"/><rect x="335.5" y="69.4" width="2.9" height="2.9"/><rect x="338.1" y="71.0" width="2.9" height="2.9"/><rect x="340.7" y="72.6" width="2.9" height="2.9"/><rect x="343.3" y="74.4" width="2.9" height="2.9"/><rect x="345.9" y="76.4" width="2.9" height="2.9"/><rect x="348.5" y="78.6" width="2.9" height="2.9"/><rect x="351.1" y="81.2" width="2.9" height="2.9"/><rect x="353.7" y="84.7" width="2.9" height="2.9"/><rect x="356.3" y="89.5" width="2.9" height="2.9"/><rect x="358.9" y="95.0" width="2.9" height="2.9"/><rect x="361.5" y="101.0" width="2.9" height="2.9"/><rect x="364.1" y="107.7" width="2.9" height="2.9"/><rect x="366.7" y="115.2" width="2.9" height="2.9"/><rect x="369.3" y="124.1" width="2.9" height="2.9"/><rect x="371.9" y="132.0" width="2.9" height="2.9"/><rect x="374.5" y="139.9" width="2.9" height="2.9"/><rect x="377.1" y="150.8" width="2.9" height="2.9"/><rect x="379.7" y="161.1" width="2.9" height="2.9"/><rect x="382.3" y="168.5" width="2.9" height="2.9"/><rect x="384.9" y="174.8" width="2.9" height="2.9"/><rect x="387.5" y="179.6" width="2.9" height="2.9"/><rect x="390.1" y="183.0" width="2.9" height="2.9"/><rect x="392.7" y="185.3" width="2.9" height="2.9"/><rect x="395.3" y="186.7" width="2.9" height="2.9"/><rect x="397.9" y="187.5" width="2.9" height="2.9"/><rect x="400.5" y="187.9" width="2.9" height="2.9"/></g>
<path d="M267.6 118.0 L268.1 118.0 L268.5 118.0 L269.0 118.0 L269.4 118.0 L269.9 118.0 L270.3 118.0 L270.8 118.0 L271.2 118.0 L271.7 118.0 L272.1 118.0 L272.6 118.0 L273.0 118.0 L273.5 118.0 L273.9 118.0 L274.4 118.0 L274.8 118.0 L275.3 118.0 L275.7 118.0 L276.2 118.0 L276.6 118.0 L277.1 118.0 L277.5 118.0 L278.0 118.0 L278.4 118.0 L278.9 118.0 L279.3 118.0 L279.8 118.0 L280.3 118.0 L280.7 118.0 L281.2 118.0 L281.6 118.0 L282.1 118.0 L282.5 118.0 L283.0 118.0 L283.4 118.0 L283.9 118.0 L284.3 118.0 L284.8 118.0 L285.2 118.0 L285.7 118.0 L286.1 118.0 L286.6 118.0 L287.0 118.0 L287.5 118.0 L287.9 118.0 L288.4 118.0 L288.8 118.0 L289.3 118.0 L289.7 118.0 L290.2 118.0 L290.6 118.0 L291.1 118.0 L291.5 118.0 L292.0 118.0 L292.5 118.0 L292.9 118.0 L293.4 118.0 L293.8 118.0 L294.3 118.0 L294.7 118.0 L295.2 118.0 L295.6 118.0 L296.1 118.0 L296.5 118.0 L297.0 118.0 L297.4 118.0 L297.9 118.0 L298.3 118.0 L298.8 118.0 L299.2 118.0 L299.7 118.0 L300.1 118.0 L300.6 118.0 L301.0 118.0 L301.5 118.0 L301.9 118.0 L302.4 118.0 L302.8 118.0 L303.3 118.0 L303.7 118.0 L304.2 118.0 L304.7 118.0 L305.1 118.0 L305.6 118.0 L306.0 118.0 L306.5 118.0 L306.9 118.0 L307.4 118.0 L307.8 118.0 L308.3 118.0 L308.7 118.0 L309.2 118.0 L309.6 118.0 L310.1 118.0 L310.5 118.0 L311.0 118.0 L311.4 118.0 L311.9 118.0 L312.3 118.0 L312.8 118.0 L313.2 118.0 L313.7 118.0 L314.1 118.0 L314.6 118.0 L315.0 118.0 L315.5 118.0 L315.9 118.0 L316.4 118.0 L316.9 118.0 L317.3 118.0 L317.8 118.0 L318.2 118.0 L318.7 118.0 L319.1 118.0 L319.6 118.0 L320.0 118.0 L320.5 118.0 L320.9 118.0 L321.4 118.0 L321.8 118.1 L322.3 118.1 L322.7 118.1 L323.2 118.1 L323.6 118.1 L324.1 118.1 L324.5 118.1 L325.0 118.1 L325.4 118.1 L325.9 118.1 L326.3 118.1 L326.8 118.1 L327.2 118.1 L327.7 118.1 L328.1 118.1 L328.6 118.1 L329.1 118.1 L329.5 118.1 L330.0 118.1 L330.4 118.1 L330.9 118.1 L331.3 118.1 L331.8 118.1 L332.2 118.1 L332.7 118.1 L333.1 118.2 L333.6 118.2 L334.0 118.2 L334.5 118.2 L334.9 118.2 L335.4 118.2 L335.8 118.2 L336.3 118.3 L336.7 118.3 L337.2 118.3 L337.6 118.3 L338.1 118.4 L338.5 118.4 L339.0 118.4 L339.4 118.4 L339.9 118.5 L340.3 118.5 L340.8 118.5 L341.2 118.6 L341.7 118.6 L342.2 118.6 L342.6 118.7 L343.1 118.7 L343.5 118.8 L344.0 118.8 L344.4 118.8 L344.9 118.9 L345.3 119.0 L345.8 119.1 L346.2 119.2 L346.7 119.3 L347.1 119.4 L347.6 119.5 L348.0 119.6 L348.5 119.8 L348.9 119.9 L349.4 120.1 L349.8 120.2 L350.3 120.4 L350.7 120.5 L351.2 120.7 L351.6 120.9 L352.1 121.0 L352.5 121.2 L353.0 121.3 L353.4 121.5 L353.9 121.7 L354.4 121.9 L354.8 122.1 L355.3 122.3 L355.7 122.5 L356.2 122.7 L356.6 123.0 L357.1 123.2 L357.5 123.5 L358.0 123.8 L358.4 124.1 L358.9 124.4 L359.3 124.8 L359.8 125.2 L360.2 125.6 L360.7 126.1 L361.1 126.5 L361.6 127.0 L362.0 127.4 L362.5 127.9 L362.9 128.3 L363.4 128.8 L363.8 129.3 L364.3 129.7 L364.7 130.2 L365.2 130.8 L365.6 131.3 L366.1 131.9 L366.6 132.4 L367.0 133.0 L367.5 133.7 L367.9 134.4 L368.4 135.1 L368.8 135.9 L369.3 136.7 L369.7 137.5 L370.2 138.3 L370.6 139.1 L371.1 139.9 L371.5 140.8 L372.0 141.7 L372.4 142.5 L372.9 143.4 L373.3 144.4 L373.8 145.3 L374.2 146.2 L374.7 147.1 L375.1 148.0 L375.6 148.9 L376.0 149.8 L376.5 150.8 L376.9 151.7 L377.4 152.6 L377.8 153.5 L378.3 154.5 L378.8 155.5 L379.2 156.5 L379.7 157.7 L380.1 159.0 L380.6 160.3 L381.0 161.7 L381.5 163.1 L381.9 164.4 L382.4 165.8 L382.8 167.1 L383.3 168.4 L383.7 169.7 L384.2 171.0 L384.6 172.1 L385.1 173.3 L385.5 174.4 L386.0 175.4 L386.4 176.5 L386.9 177.4 L387.3 178.3 L387.8 179.2 L388.2 179.9 L388.7 180.7 L389.1 181.4 L389.6 182.1 L390.0 182.7 L390.5 183.3 L391.0 183.8 L391.4 184.3 L391.9 184.7 L392.3 185.2 L392.8 185.6 L393.2 186.0 L393.7 186.4 L394.1 186.7 L394.6 187.0 L395.0 187.3 L395.5 187.6 L395.9 187.8 L396.4 188.0 L396.8 188.1 L397.3 188.3 L397.7 188.4 L398.2 188.6 L398.6 188.7 L399.1 188.9 L399.5 189.0 L400.0 189.1 L400.4 189.2 L400.9 189.2 L401.3 189.3 L401.8 189.4 L402.2 189.4 L402.7 189.4" fill="none" stroke="#78f03a" stroke-width="0.7" stroke-dasharray="2.5 1.5"/>
<g fill="none" stroke="#78f03a" stroke-width="0.7"><circle cx="267.6" cy="118.0" r="1.5"/><circle cx="275.8" cy="118.0" r="1.5"/><circle cx="280.5" cy="118.0" r="1.5"/><circle cx="283.9" cy="118.0" r="1.5"/><circle cx="286.5" cy="118.0" r="1.5"/><circle cx="288.6" cy="118.0" r="1.5"/><circle cx="290.7" cy="118.0" r="1.5"/><circle cx="292.8" cy="118.0" r="1.5"/><circle cx="294.9" cy="118.0" r="1.5"/><circle cx="297.0" cy="118.0" r="1.5"/><circle cx="299.1" cy="118.0" r="1.5"/><circle cx="301.2" cy="118.0" r="1.5"/><circle cx="303.3" cy="118.0" r="1.5"/><circle cx="305.4" cy="118.0" r="1.5"/><circle cx="307.5" cy="118.0" r="1.5"/><circle cx="309.6" cy="118.0" r="1.5"/><circle cx="311.7" cy="118.0" r="1.5"/><circle cx="313.8" cy="118.0" r="1.5"/><circle cx="315.9" cy="118.0" r="1.5"/><circle cx="318.0" cy="118.0" r="1.5"/><circle cx="320.1" cy="118.0" r="1.5"/><circle cx="322.2" cy="118.1" r="1.5"/><circle cx="324.3" cy="118.1" r="1.5"/><circle cx="326.4" cy="118.1" r="1.5"/><circle cx="328.5" cy="118.1" r="1.5"/><circle cx="330.6" cy="118.1" r="1.5"/><circle cx="332.7" cy="118.1" r="1.5"/><circle cx="334.8" cy="118.2" r="1.5"/><circle cx="336.9" cy="118.3" r="1.5"/><circle cx="339.5" cy="118.5" r="1.5"/><circle cx="342.1" cy="118.6" r="1.5"/><circle cx="344.7" cy="118.9" r="1.5"/><circle cx="347.3" cy="119.4" r="1.5"/><circle cx="349.9" cy="120.2" r="1.5"/><circle cx="352.5" cy="121.2" r="1.5"/><circle cx="355.1" cy="122.2" r="1.5"/><circle cx="357.7" cy="123.6" r="1.5"/><circle cx="360.3" cy="125.8" r="1.5"/><circle cx="362.9" cy="128.3" r="1.5"/><circle cx="365.5" cy="131.2" r="1.5"/><circle cx="368.1" cy="134.8" r="1.5"/><circle cx="370.7" cy="139.3" r="1.5"/><circle cx="373.3" cy="144.4" r="1.5"/><circle cx="375.9" cy="149.6" r="1.5"/><circle cx="378.5" cy="155.0" r="1.5"/><circle cx="381.1" cy="162.1" r="1.5"/><circle cx="383.7" cy="169.8" r="1.5"/><circle cx="386.3" cy="176.3" r="1.5"/><circle cx="388.9" cy="181.1" r="1.5"/><circle cx="391.5" cy="184.4" r="1.5"/><circle cx="394.1" cy="186.7" r="1.5"/><circle cx="396.7" cy="188.1" r="1.5"/><circle cx="399.3" cy="188.9" r="1.5"/><circle cx="401.9" cy="189.4" r="1.5"/></g>
<path d="M267.6 133.5 L268.1 133.5 L268.5 133.5 L269.0 133.5 L269.4 133.5 L269.9 133.5 L270.3 133.5 L270.8 133.5 L271.2 133.5 L271.7 133.5 L272.1 133.5 L272.6 133.5 L273.0 133.5 L273.5 133.5 L273.9 133.5 L274.4 133.5 L274.8 133.5 L275.3 133.5 L275.8 133.5 L276.2 133.5 L276.7 133.5 L277.1 133.5 L277.6 133.5 L278.0 133.5 L278.5 133.5 L278.9 133.5 L279.4 133.6 L279.8 133.6 L280.3 133.6 L280.7 133.6 L281.2 133.6 L281.6 133.6 L282.1 133.6 L282.5 133.6 L283.0 133.6 L283.4 133.6 L283.9 133.6 L284.4 133.6 L284.8 133.6 L285.3 133.6 L285.7 133.6 L286.2 133.6 L286.6 133.6 L287.1 133.6 L287.5 133.7 L288.0 133.7 L288.4 133.7 L288.9 133.7 L289.3 133.7 L289.8 133.7 L290.2 133.7 L290.7 133.7 L291.1 133.8 L291.6 133.8 L292.1 133.9 L292.5 133.9 L293.0 134.0 L293.4 134.1 L293.9 134.2 L294.3 134.2 L294.8 134.3 L295.2 134.4 L295.7 134.6 L296.1 134.7 L296.6 134.8 L297.0 134.9 L297.5 135.0 L297.9 135.1 L298.4 135.3 L298.8 135.4 L299.3 135.5 L299.8 135.6 L300.2 135.7 L300.7 135.9 L301.1 136.1 L301.6 136.2 L302.0 136.4 L302.5 136.6 L302.9 136.8 L303.4 136.9 L303.8 137.1 L304.3 137.2 L304.7 137.3 L305.2 137.4 L305.6 137.5 L306.1 137.6 L306.5 137.7 L307.0 137.8 L307.5 137.8 L307.9 137.9 L308.4 137.9 L308.8 137.9 L309.3 137.9 L309.7 137.9 L310.2 137.9 L310.6 137.9 L311.1 137.8 L311.5 137.8 L312.0 137.8 L312.4 137.8 L312.9 137.7 L313.3 137.7 L313.8 137.7 L314.2 137.7 L314.7 137.6 L315.1 137.6 L315.6 137.6 L316.1 137.6 L316.5 137.6 L317.0 137.6 L317.4 137.6 L317.9 137.6 L318.3 137.7 L318.8 137.7 L319.2 137.7 L319.7 137.8 L320.1 137.8 L320.6 137.9 L321.0 138.0 L321.5 138.0 L321.9 138.1 L322.4 138.2 L322.8 138.3 L323.3 138.4 L323.8 138.5 L324.2 138.7 L324.7 138.9 L325.1 139.1 L325.6 139.3 L326.0 139.4 L326.5 139.5 L326.9 139.7 L327.4 139.8 L327.8 139.9 L328.3 140.0 L328.7 140.1 L329.2 140.2 L329.6 140.3 L330.1 140.4 L330.5 140.6 L331.0 140.7 L331.5 140.8 L331.9 141.0 L332.4 141.2 L332.8 141.4 L333.3 141.6 L333.7 141.8 L334.2 142.1 L334.6 142.3 L335.1 142.5 L335.5 142.7 L336.0 143.0 L336.4 143.2 L336.9 143.4 L337.3 143.6 L337.8 143.8 L338.2 144.0 L338.7 144.2 L339.1 144.4 L339.6 144.7 L340.1 144.9 L340.5 145.1 L341.0 145.3 L341.4 145.6 L341.9 145.8 L342.3 146.1 L342.8 146.3 L343.2 146.6 L343.7 146.8 L344.1 147.1 L344.6 147.4 L345.0 147.8 L345.5 148.1 L345.9 148.4 L346.4 148.8 L346.8 149.1 L347.3 149.5 L347.8 149.9 L348.2 150.2 L348.7 150.6 L349.1 151.0 L349.6 151.3 L350.0 151.7 L350.5 152.0 L350.9 152.4 L351.4 152.7 L351.8 153.0 L352.3 153.3 L352.7 153.6 L353.2 153.9 L353.6 154.3 L354.1 154.6 L354.5 154.9 L355.0 155.3 L355.5 155.6 L355.9 156.0 L356.4 156.5 L356.8 156.9 L357.3 157.4 L357.7 157.9 L358.2 158.4 L358.6 158.9 L359.1 159.4 L359.5 160.0 L360.0 160.5 L360.4 161.1 L360.9 161.7 L361.3 162.4 L361.8 163.0 L362.2 163.7 L362.7 164.5 L363.1 165.2 L363.6 165.9 L364.1 166.7 L364.5 167.5 L365.0 168.2 L365.4 169.0 L365.9 169.7 L366.3 170.4 L366.8 171.1 L367.2 171.8 L367.7 172.4 L368.1 173.1 L368.6 173.7 L369.0 174.3 L369.5 174.9 L369.9 175.5 L370.4 176.1 L370.8 176.7 L371.3 177.3 L371.8 177.8 L372.2 178.4 L372.7 178.9 L373.1 179.5 L373.6 180.0 L374.0 180.5 L374.5 181.0 L374.9 181.4 L375.4 181.9 L375.8 182.3 L376.3 182.7 L376.7 183.2 L377.2 183.6 L377.6 184.0 L378.1 184.4 L378.5 184.8 L379.0 185.2 L379.5 185.5 L379.9 185.9 L380.4 186.2 L380.8 186.5 L381.3 186.8 L381.7 187.0 L382.2 187.2 L382.6 187.4 L383.1 187.6 L383.5 187.8 L384.0 188.0 L384.4 188.2 L384.9 188.4 L385.3 188.6 L385.8 188.7 L386.2 188.8 L386.7 189.0 L387.2 189.0 L387.6 189.1 L388.1 189.2 L388.5 189.2 L389.0 189.2 L389.4 189.2 L389.9 189.3 L390.3 189.3 L390.8 189.3 L391.2 189.3 L391.7 189.3 L392.1 189.3 L392.6 189.4 L393.0 189.4 L393.5 189.4 L393.9 189.4 L394.4 189.4 L394.8 189.4 L395.3 189.4 L395.8 189.4 L396.2 189.4 L396.7 189.4 L397.1 189.5 L397.6 189.5 L398.0 189.5 L398.5 189.5 L398.9 189.5 L399.4 189.5 L399.8 189.5 L400.3 189.5 L400.7 189.5 L401.2 189.5 L401.6 189.5 L402.1 189.5 L402.5 189.5 L403.0 189.5" fill="none" stroke="#0a0ad8" stroke-width="0.9"/>
<g fill="none" stroke="#0a0ad8" stroke-width="0.7"><path d="M267.6 131.6l1.5 1.9l-1.5 1.9l-1.5 -1.9z"/><path d="M275.8 131.6l1.5 1.9l-1.5 1.9l-1.5 -1.9z"/><path d="M280.5 131.7l1.5 1.9l-1.5 1.9l-1.5 -1.9z"/><path d="M283.9 131.7l1.5 1.9l-1.5 1.9l-1.5 -1.9z"/><path d="M286.5 131.7l1.5 1.9l-1.5 1.9l-1.5 -1.9z"/><path d="M288.6 131.8l1.5 1.9l-1.5 1.9l-1.5 -1.9z"/><path d="M290.7 131.8l1.5 1.9l-1.5 1.9l-1.5 -1.9z"/><path d="M292.8 132.1l1.5 1.9l-1.5 1.9l-1.5 -1.9z"/><path d="M294.9 132.5l1.5 1.9l-1.5 1.9l-1.5 -1.9z"/><path d="M297.0 133.0l1.5 1.9l-1.5 1.9l-1.5 -1.9z"/><path d="M299.1 133.6l1.5 1.9l-1.5 1.9l-1.5 -1.9z"/><path d="M301.2 134.2l1.5 1.9l-1.5 1.9l-1.5 -1.9z"/><path d="M303.3 135.0l1.5 1.9l-1.5 1.9l-1.5 -1.9z"/><path d="M305.4 135.6l1.5 1.9l-1.5 1.9l-1.5 -1.9z"/><path d="M307.5 135.9l1.5 1.9l-1.5 1.9l-1.5 -1.9z"/><path d="M309.6 136.0l1.5 1.9l-1.5 1.9l-1.5 -1.9z"/><path d="M311.7 135.9l1.5 1.9l-1.5 1.9l-1.5 -1.9z"/><path d="M313.8 135.8l1.5 1.9l-1.5 1.9l-1.5 -1.9z"/><path d="M315.9 135.7l1.5 1.9l-1.5 1.9l-1.5 -1.9z"/><path d="M318.0 135.7l1.5 1.9l-1.5 1.9l-1.5 -1.9z"/><path d="M320.1 135.9l1.5 1.9l-1.5 1.9l-1.5 -1.9z"/><path d="M322.2 136.3l1.5 1.9l-1.5 1.9l-1.5 -1.9z"/><path d="M324.3 136.9l1.5 1.9l-1.5 1.9l-1.5 -1.9z"/><path d="M326.4 137.6l1.5 1.9l-1.5 1.9l-1.5 -1.9z"/><path d="M328.5 138.2l1.5 1.9l-1.5 1.9l-1.5 -1.9z"/><path d="M330.6 138.7l1.5 1.9l-1.5 1.9l-1.5 -1.9z"/><path d="M332.7 139.5l1.5 1.9l-1.5 1.9l-1.5 -1.9z"/><path d="M334.8 140.5l1.5 1.9l-1.5 1.9l-1.5 -1.9z"/><path d="M336.9 141.5l1.5 1.9l-1.5 1.9l-1.5 -1.9z"/><path d="M339.5 142.7l1.5 1.9l-1.5 1.9l-1.5 -1.9z"/><path d="M342.1 144.1l1.5 1.9l-1.5 1.9l-1.5 -1.9z"/><path d="M344.7 145.6l1.5 1.9l-1.5 1.9l-1.5 -1.9z"/><path d="M347.3 147.6l1.5 1.9l-1.5 1.9l-1.5 -1.9z"/><path d="M349.9 149.7l1.5 1.9l-1.5 1.9l-1.5 -1.9z"/><path d="M352.5 151.6l1.5 1.9l-1.5 1.9l-1.5 -1.9z"/><path d="M355.1 153.5l1.5 1.9l-1.5 1.9l-1.5 -1.9z"/><path d="M357.7 156.0l1.5 1.9l-1.5 1.9l-1.5 -1.9z"/><path d="M360.3 159.1l1.5 1.9l-1.5 1.9l-1.5 -1.9z"/><path d="M362.9 162.9l1.5 1.9l-1.5 1.9l-1.5 -1.9z"/><path d="M365.5 167.3l1.5 1.9l-1.5 1.9l-1.5 -1.9z"/><path d="M368.1 171.2l1.5 1.9l-1.5 1.9l-1.5 -1.9z"/><path d="M370.7 174.6l1.5 1.9l-1.5 1.9l-1.5 -1.9z"/><path d="M373.3 177.8l1.5 1.9l-1.5 1.9l-1.5 -1.9z"/><path d="M375.9 180.5l1.5 1.9l-1.5 1.9l-1.5 -1.9z"/><path d="M378.5 182.9l1.5 1.9l-1.5 1.9l-1.5 -1.9z"/><path d="M381.1 184.8l1.5 1.9l-1.5 1.9l-1.5 -1.9z"/><path d="M383.7 186.0l1.5 1.9l-1.5 1.9l-1.5 -1.9z"/><path d="M386.3 187.0l1.5 1.9l-1.5 1.9l-1.5 -1.9z"/><path d="M388.9 187.3l1.5 1.9l-1.5 1.9l-1.5 -1.9z"/><path d="M391.5 187.4l1.5 1.9l-1.5 1.9l-1.5 -1.9z"/><path d="M394.1 187.5l1.5 1.9l-1.5 1.9l-1.5 -1.9z"/><path d="M396.7 187.5l1.5 1.9l-1.5 1.9l-1.5 -1.9z"/><path d="M399.3 187.6l1.5 1.9l-1.5 1.9l-1.5 -1.9z"/><path d="M401.9 187.6l1.5 1.9l-1.5 1.9l-1.5 -1.9z"/></g>
<rect x="267.6" y="55.2" width="135.39999999999998" height="134.3" fill="none" stroke="#3a3a3a" stroke-width="0.9"/>
<path d="M72.50 189.00L75.10 189.00M72.50 185.66L73.90 185.66M72.50 182.32L73.90 182.32M72.50 178.99L73.90 178.99M72.50 175.65L73.90 175.65M72.50 172.31L75.10 172.31M72.50 168.97L73.90 168.97M72.50 165.64L73.90 165.64M72.50 162.30L73.90 162.30M72.50 158.96L73.90 158.96M72.50 155.62L75.10 155.62M72.50 152.29L73.90 152.29M72.50 148.95L73.90 148.95M72.50 145.61L73.90 145.61M72.50 142.28L73.90 142.28M72.50 138.94L75.10 138.94M72.50 135.60L73.90 135.60M72.50 132.26L73.90 132.26M72.50 128.93L73.90 128.93M72.50 125.59L73.90 125.59M72.50 122.25L75.10 122.25M72.50 118.91L73.90 118.91M72.50 115.58L73.90 115.58M72.50 112.24L73.90 112.24M72.50 108.90L73.90 108.90M72.50 105.56L75.10 105.56M72.50 102.22L73.90 102.22M72.50 98.89L73.90 98.89M72.50 95.55L73.90 95.55M72.50 92.21L73.90 92.21M72.50 88.88L75.10 88.88M72.50 85.54L73.90 85.54M72.50 82.20L73.90 82.20M72.50 78.86L73.90 78.86M72.50 75.53L73.90 75.53M72.50 72.19L75.10 72.19M72.50 68.85L73.90 68.85M72.50 65.51L73.90 65.51M72.50 62.17L73.90 62.17M72.50 58.84L73.90 58.84M72.50 55.50L75.10 55.50M201.00 189.00L198.40 189.00M201.00 183.66L199.60 183.66M201.00 178.32L199.60 178.32M201.00 172.98L199.60 172.98M201.00 167.64L199.60 167.64M201.00 162.30L198.40 162.30M201.00 156.96L199.60 156.96M201.00 151.62L199.60 151.62M201.00 146.28L199.60 146.28M201.00 140.94L199.60 140.94M201.00 135.60L198.40 135.60M201.00 130.26L199.60 130.26M201.00 124.92L199.60 124.92M201.00 119.58L199.60 119.58M201.00 114.24L199.60 114.24M201.00 108.90L198.40 108.90M201.00 103.56L199.60 103.56M201.00 98.22L199.60 98.22M201.00 92.88L199.60 92.88M201.00 87.54L199.60 87.54M201.00 82.20L198.40 82.20M201.00 76.86L199.60 76.86M201.00 71.52L199.60 71.52M201.00 66.18L199.60 66.18M201.00 60.84L199.60 60.84M201.00 55.50L198.40 55.50M73.15 189.00L73.15 187.60M73.15 55.50L73.15 56.90M75.60 189.00L75.60 187.60M75.60 55.50L75.60 56.90M77.50 189.00L77.50 187.60M77.50 55.50L77.50 56.90M79.05 189.00L79.05 187.60M79.05 55.50L79.05 56.90M80.36 189.00L80.36 187.60M80.36 55.50L80.36 56.90M81.50 189.00L81.50 187.60M81.50 55.50L81.50 56.90M82.50 189.00L82.50 187.60M82.50 55.50L82.50 56.90M83.40 189.00L83.40 186.40M83.40 55.50L83.40 58.10M89.30 189.00L89.30 187.60M89.30 55.50L89.30 56.90M92.75 189.00L92.75 187.60M92.75 55.50L92.75 56.90M95.20 189.00L95.20 187.60M95.20 55.50L95.20 56.90M97.10 189.00L97.10 187.60M97.10 55.50L97.10 56.90M98.65 189.00L98.65 187.60M98.65 55.50L98.65 56.90M99.96 189.00L99.96 187.60M99.96 55.50L99.96 56.90M101.10 189.00L101.10 187.60M101.10 55.50L101.10 56.90M102.10 189.00L102.10 187.60M102.10 55.50L102.10 56.90M103.00 189.00L103.00 186.40M103.00 55.50L103.00 58.10M108.90 189.00L108.90 187.60M108.90 55.50L108.90 56.90M112.35 189.00L112.35 187.60M112.35 55.50L112.35 56.90M114.80 189.00L114.80 187.60M114.80 55.50L114.80 56.90M116.70 189.00L116.70 187.60M116.70 55.50L116.70 56.90M118.25 189.00L118.25 187.60M118.25 55.50L118.25 56.90M119.56 189.00L119.56 187.60M119.56 55.50L119.56 56.90M120.70 189.00L120.70 187.60M120.70 55.50L120.70 56.90M121.70 189.00L121.70 187.60M121.70 55.50L121.70 56.90M122.60 189.00L122.60 186.40M122.60 55.50L122.60 58.10M128.50 189.00L128.50 187.60M128.50 55.50L128.50 56.90M131.95 189.00L131.95 187.60M131.95 55.50L131.95 56.90M134.40 189.00L134.40 187.60M134.40 55.50L134.40 56.90M136.30 189.00L136.30 187.60M136.30 55.50L136.30 56.90M137.85 189.00L137.85 187.60M137.85 55.50L137.85 56.90M139.16 189.00L139.16 187.60M139.16 55.50L139.16 56.90M140.30 189.00L140.30 187.60M140.30 55.50L140.30 56.90M141.30 189.00L141.30 187.60M141.30 55.50L141.30 56.90M142.20 189.00L142.20 186.40M142.20 55.50L142.20 58.10M148.10 189.00L148.10 187.60M148.10 55.50L148.10 56.90M151.55 189.00L151.55 187.60M151.55 55.50L151.55 56.90M154.00 189.00L154.00 187.60M154.00 55.50L154.00 56.90M155.90 189.00L155.90 187.60M155.90 55.50L155.90 56.90M157.45 189.00L157.45 187.60M157.45 55.50L157.45 56.90M158.76 189.00L158.76 187.60M158.76 55.50L158.76 56.90M159.90 189.00L159.90 187.60M159.90 55.50L159.90 56.90M160.90 189.00L160.90 187.60M160.90 55.50L160.90 56.90M161.80 189.00L161.80 186.40M161.80 55.50L161.80 58.10M167.70 189.00L167.70 187.60M167.70 55.50L167.70 56.90M171.15 189.00L171.15 187.60M171.15 55.50L171.15 56.90M173.60 189.00L173.60 187.60M173.60 55.50L173.60 56.90M175.50 189.00L175.50 187.60M175.50 55.50L175.50 56.90M177.05 189.00L177.05 187.60M177.05 55.50L177.05 56.90M178.36 189.00L178.36 187.60M178.36 55.50L178.36 56.90M179.50 189.00L179.50 187.60M179.50 55.50L179.50 56.90M180.50 189.00L180.50 187.60M180.50 55.50L180.50 56.90M181.40 189.00L181.40 186.40M181.40 55.50L181.40 58.10M187.30 189.00L187.30 187.60M187.30 55.50L187.30 56.90M190.75 189.00L190.75 187.60M190.75 55.50L190.75 56.90M193.20 189.00L193.20 187.60M193.20 55.50L193.20 56.90M195.10 189.00L195.10 187.60M195.10 55.50L195.10 56.90M196.65 189.00L196.65 187.60M196.65 55.50L196.65 56.90M197.96 189.00L197.96 187.60M197.96 55.50L197.96 56.90M199.10 189.00L199.10 187.60M199.10 55.50L199.10 56.90M200.10 189.00L200.10 187.60M200.10 55.50L200.10 56.90M267.60 189.50L270.20 189.50M403.00 189.50L400.40 189.50M267.60 183.05L269.00 183.05M403.00 183.05L401.60 183.05M267.60 176.60L269.00 176.60M403.00 176.60L401.60 176.60M267.60 170.15L269.00 170.15M403.00 170.15L401.60 170.15M267.60 163.70L270.20 163.70M403.00 163.70L400.40 163.70M267.60 157.25L269.00 157.25M403.00 157.25L401.60 157.25M267.60 150.80L269.00 150.80M403.00 150.80L401.60 150.80M267.60 144.35L269.00 144.35M403.00 144.35L401.60 144.35M267.60 137.90L270.20 137.90M403.00 137.90L400.40 137.90M267.60 131.45L269.00 131.45M403.00 131.45L401.60 131.45M267.60 125.00L269.00 125.00M403.00 125.00L401.60 125.00M267.60 118.55L269.00 118.55M403.00 118.55L401.60 118.55M267.60 112.10L270.20 112.10M403.00 112.10L400.40 112.10M267.60 105.65L269.00 105.65M403.00 105.65L401.60 105.65M267.60 99.20L269.00 99.20M403.00 99.20L401.60 99.20M267.60 92.75L269.00 92.75M403.00 92.75L401.60 92.75M267.60 86.30L270.20 86.30M403.00 86.30L400.40 86.30M267.60 79.85L269.00 79.85M403.00 79.85L401.60 79.85M267.60 73.40L269.00 73.40M403.00 73.40L401.60 73.40M267.60 66.95L269.00 66.95M403.00 66.95L401.60 66.95M267.60 60.50L270.20 60.50M403.00 60.50L400.40 60.50M275.76 189.50L275.76 188.10M275.76 55.20L275.76 56.60M280.53 189.50L280.53 188.10M280.53 55.20L280.53 56.60M283.92 189.50L283.92 188.10M283.92 55.20L283.92 56.60M286.54 189.50L286.54 188.10M286.54 55.20L286.54 56.60M288.69 189.50L288.69 188.10M288.69 55.20L288.69 56.60M290.50 189.50L290.50 188.10M290.50 55.20L290.50 56.60M292.07 189.50L292.07 188.10M292.07 55.20L292.07 56.60M293.46 189.50L293.46 188.10M293.46 55.20L293.46 56.60M294.70 189.50L294.70 186.90M294.70 55.20L294.70 57.80M302.86 189.50L302.86 188.10M302.86 55.20L302.86 56.60M307.63 189.50L307.63 188.10M307.63 55.20L307.63 56.60M311.02 189.50L311.02 188.10M311.02 55.20L311.02 56.60M313.64 189.50L313.64 188.10M313.64 55.20L313.64 56.60M315.79 189.50L315.79 188.10M315.79 55.20L315.79 56.60M317.60 189.50L317.60 188.10M317.60 55.20L317.60 56.60M319.17 189.50L319.17 188.10M319.17 55.20L319.17 56.60M320.56 189.50L320.56 188.10M320.56 55.20L320.56 56.60M321.80 189.50L321.80 186.90M321.80 55.20L321.80 57.80M329.96 189.50L329.96 188.10M329.96 55.20L329.96 56.60M334.73 189.50L334.73 188.10M334.73 55.20L334.73 56.60M338.12 189.50L338.12 188.10M338.12 55.20L338.12 56.60M340.74 189.50L340.74 188.10M340.74 55.20L340.74 56.60M342.89 189.50L342.89 188.10M342.89 55.20L342.89 56.60M344.70 189.50L344.70 188.10M344.70 55.20L344.70 56.60M346.27 189.50L346.27 188.10M346.27 55.20L346.27 56.60M347.66 189.50L347.66 188.10M347.66 55.20L347.66 56.60M348.90 189.50L348.90 186.90M348.90 55.20L348.90 57.80M357.06 189.50L357.06 188.10M357.06 55.20L357.06 56.60M361.83 189.50L361.83 188.10M361.83 55.20L361.83 56.60M365.22 189.50L365.22 188.10M365.22 55.20L365.22 56.60M367.84 189.50L367.84 188.10M367.84 55.20L367.84 56.60M369.99 189.50L369.99 188.10M369.99 55.20L369.99 56.60M371.80 189.50L371.80 188.10M371.80 55.20L371.80 56.60M373.37 189.50L373.37 188.10M373.37 55.20L373.37 56.60M374.76 189.50L374.76 188.10M374.76 55.20L374.76 56.60M376.00 189.50L376.00 186.90M376.00 55.20L376.00 57.80M384.16 189.50L384.16 188.10M384.16 55.20L384.16 56.60M388.93 189.50L388.93 188.10M388.93 55.20L388.93 56.60M392.32 189.50L392.32 188.10M392.32 55.20L392.32 56.60M394.94 189.50L394.94 188.10M394.94 55.20L394.94 56.60M397.09 189.50L397.09 188.10M397.09 55.20L397.09 56.60M398.90 189.50L398.90 188.10M398.90 55.20L398.90 56.60M400.47 189.50L400.47 188.10M400.47 55.20L400.47 56.60M401.86 189.50L401.86 188.10M401.86 55.20L401.86 56.60" stroke="#3a3a3a" stroke-width="0.7" fill="none"/>
<text x="264.40000000000003" y="191.6" text-anchor="end" font-size="7.8" stroke="#111">0</text>
<text x="264.40000000000003" y="165.8" text-anchor="end" font-size="7.8" stroke="#111">0.2</text>
<text x="264.40000000000003" y="140.0" text-anchor="end" font-size="7.8" stroke="#111">0.4</text>
<text x="264.40000000000003" y="114.2" text-anchor="end" font-size="7.8" stroke="#111">0.6</text>
<text x="264.40000000000003" y="88.4" text-anchor="end" font-size="7.8" stroke="#111">0.8</text>
<text x="264.40000000000003" y="62.6" text-anchor="end" font-size="7.8" stroke="#111">1</text>
<text x="259.8" y="199.6" font-size="7.8" stroke="#111">10<tspan dy="-2.4" font-size="5.2">-15</tspan></text>
<text x="286.9" y="199.6" font-size="7.8" stroke="#111">10<tspan dy="-2.4" font-size="5.2">-14</tspan></text>
<text x="314.0" y="199.6" font-size="7.8" stroke="#111">10<tspan dy="-2.4" font-size="5.2">-13</tspan></text>
<text x="341.1" y="199.6" font-size="7.8" stroke="#111">10<tspan dy="-2.4" font-size="5.2">-12</tspan></text>
<text x="368.2" y="199.6" font-size="7.8" stroke="#111">10<tspan dy="-2.4" font-size="5.2">-11</tspan></text>
<text x="387.4" y="206.4" font-size="8.8" stroke="#111">t(s)</text>
<text transform="translate(251.2,80.6) rotate(-90)" font-size="11" stroke="#111">φ(t)</text>
<text x="361.4" y="86.7" font-size="10" stroke="#111">Total</text>
<text x="299.7" y="106.6" font-size="10" fill="#78f03a" stroke="#78f03a">Cross</text>
<text x="313.6" y="160.0" font-size="10" fill="#0a0ad8" stroke="#0a0ad8">Self</text>
</svg>
</body></html>
